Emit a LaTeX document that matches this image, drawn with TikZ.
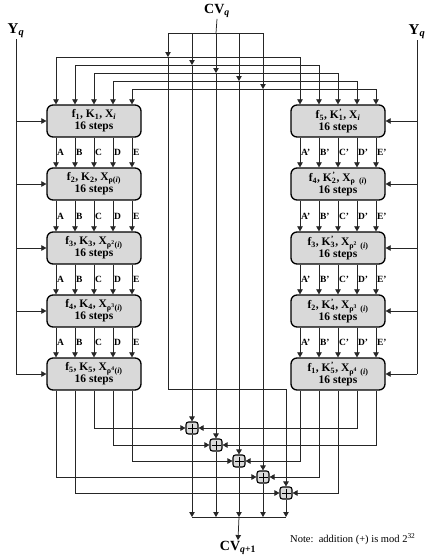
\documentclass[tikz,border=0pt]{standalone}
\usepackage{fontspec}
\setmainfont{Liberation Serif}
\usetikzlibrary{arrows.meta}
\newcommand\Kp[1]{K\textsubscript{#1}\kern-0.36em\textsuperscript{\textquoteright}\kern0.1em}
\begin{document}
\begin{tikzpicture}[x=1pt,y=-1pt,
 line/.style={draw=black!85, line width=0.75pt},
 arr/.style={line, -{Triangle[length=5pt,width=5.5pt]}},
 blk/.style={draw, line width=1.3pt, fill=black!15, rounded corners=6pt, minimum width=94pt, minimum height=32pt, inner sep=0pt, align=center, font=\bfseries\fontsize{11.5}{12}\selectfont},
 add/.style={draw, line width=1.1pt, fill=black!15, rounded corners=2.5pt, minimum size=12pt, inner sep=0pt,
   path picture={\draw[line width=0.7pt] ([yshift=-1.5pt]path picture bounding box.north) -- ([yshift=1.5pt]path picture bounding box.south) ([xshift=1.5pt]path picture bounding box.west) -- ([xshift=-1.5pt]path picture bounding box.east);}},
 lbl/.style={font=\bfseries\fontsize{9.5}{9.5}\selectfont, anchor=west, inner sep=0.8pt},
 big/.style={font=\bfseries\fontsize{14}{14}\selectfont, inner sep=1pt},
]
\useasboundingbox[fill=white] (0,0) rectangle (436,558);

% blocks
\node[blk] (L1) at (94,121) {f\textsubscript{1}, K\textsubscript{1}, X\textsubscript{\textit{i}}\\16 steps};
\node[blk] (L2) at (94,184) {f\textsubscript{2}, K\textsubscript{2}, X\textsubscript{ρ(\textit{i})}\\16 steps};
\node[blk] (L3) at (94,248) {f\textsubscript{3}, K\textsubscript{3}, X\textsubscript{ρ\textsuperscript{2}(\textit{i})}\\16 steps};
\node[blk] (L4) at (94,311) {f\textsubscript{4}, K\textsubscript{4}, X\textsubscript{ρ\textsuperscript{3}(\textit{i})}\\16 steps};
\node[blk] (L5) at (94,374) {f\textsubscript{5}, K\textsubscript{5}, X\textsubscript{ρ\textsuperscript{4}(\textit{i})}\\16 steps};
\node[blk] (R1) at (338,121) {f\textsubscript{5}, \Kp{1}, X\textsubscript{\textit{i}}\\16 steps};
\node[blk] (R2) at (338,184) {f\textsubscript{4}, \Kp{2}, X\textsubscript{ρ\ \ (\textit{i})}\\16 steps};
\node[blk] (R3) at (338,248) {f\textsubscript{3}, \Kp{3}, X\textsubscript{ρ\textsuperscript{2}\ \,(\textit{i})}\\16 steps};
\node[blk] (R4) at (338,311) {f\textsubscript{2}, \Kp{4}, X\textsubscript{ρ\textsuperscript{3}\ \,(\textit{i})}\\16 steps};
\node[blk] (R5) at (338,374) {f\textsubscript{1}, \Kp{5}, X\textsubscript{ρ\textsuperscript{4}\ \,(\textit{i})}\\16 steps};

% adders
\node[add] (S1) at (192,428) {};
\node[add] (S2) at (216,445) {};
\node[add] (S3) at (239,461) {};
\node[add] (S4) at (263,477) {};
\node[add] (S5) at (286,493) {};

% labels
\node[big] (cvq) at (217,11) {CV\textsubscript{\textit{q}}};
\node[big] (cvo) at (238,548) {CV\textsubscript{\textit{q}+1}};
\node[big, font=\bfseries\fontsize{15}{15}\selectfont] (yl) at (16,31) {Y\textsubscript{\textit{q}}};
\node[big, font=\bfseries\fontsize{15}{15}\selectfont] (yr) at (417,32) {Y\textsubscript{\textit{q}}};
\node[font=\fontsize{10.5}{10.5}\selectfont, anchor=west, inner sep=0pt] (note) at (290,539) {Note:\ \ addition (+) is mod 2\textsuperscript{32}};

% CV input distribution
\coordinate (bus) at (216,33);
\draw[line] (cvq.south) -- (bus);
\foreach \i/\lx/\rx/\y/\cx in {1/56/300/57/168, 2/75/319/65/192, 3/94/338/73/216, 4/113/357/81/239, 5/132/376/89/263} {
  \coordinate (hl\i) at (\lx,\y);
  \coordinate (hr\i) at (\rx,\y);
  \coordinate (cvt\i) at (\cx,33);
  \coordinate (cvj\i) at (\cx,\y);
  \draw[line] (hl\i) -- (hr\i);
  \draw[arr] (hl\i) -- (hl\i |- L1.north);
  \draw[arr] (hr\i) -- (hr\i |- R1.north);
  \draw[arr] (cvt\i) -- (cvj\i);
}
\draw[line] (cvt1) -- (cvt5);

% between blocks
\foreach \a/\b in {1/2,2/3,3/4,4/5} {
  \foreach \i/\n in {1/A,2/B,3/C,4/D,5/E} {
    \draw[arr] (hl\i |- L\a.south) -- (hl\i |- L\b.north);
    \draw[arr] (hr\i |- R\a.south) -- (hr\i |- R\b.north);
    \path (hl\i |- L\a.south) -- (hl\i |- L\b.north) node[lbl, midway] {\n};
    \path (hr\i |- R\a.south) -- (hr\i |- R\b.north) node[lbl, midway] {\n'};
  }
}

% Y inputs
\draw[line] (yl.south) -- (yl.south |- L5.west);
\draw[line] (yr.south) -- (yr.south |- R5.west);
\foreach \r in {1,...,5} {
  \draw[arr] (yl.south |- L\r.west) -- (L\r.west);
  \draw[arr] (yr.south |- R\r.west) -- (R\r.east);
}

% CV to adders
\draw[arr] (cvj2) -- (S1.north);
\draw[arr] (cvj3) -- (S2.north);
\draw[arr] (cvj4) -- (S3.north);
\draw[arr] (cvj5) -- (S4.north);
\coordinate (turn) at (168,389);
\draw[arr] (cvj1) -- (turn) -| (S5.north);

% left outputs
\draw[arr] (hl3 |- L5.south) |- (S1.west);
\draw[arr] (hl4 |- L5.south) |- (S2.west);
\draw[arr] (hl5 |- L5.south) |- (S3.west);
\draw[arr] (hl1 |- L5.south) |- (S4.west);
\draw[arr] (hl2 |- L5.south) |- (S5.west);
% right outputs
\draw[arr] (hr4 |- R5.south) |- (S1.east);
\draw[arr] (hr5 |- R5.south) |- (S2.east);
\draw[arr] (hr1 |- R5.south) |- (S3.east);
\draw[arr] (hr2 |- R5.south) |- (S4.east);
\draw[arr] (hr3 |- R5.south) |- (S5.east);

% output bus
\coordinate (ob1) at (192,517);
\coordinate (ob5) at (286,517);
\coordinate (obm) at (239,517);
\draw[line] (ob1) -- (ob5);
\foreach \k in {1,...,5} {
  \draw[arr] (S\k.south) -- (S\k.south |- ob1);
}
\draw[arr] (obm) -- (cvo.north);
\end{tikzpicture}
\end{document}
